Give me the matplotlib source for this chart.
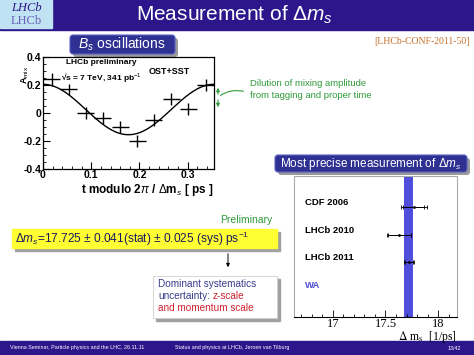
import numpy as np
import matplotlib
matplotlib.use("Agg")
import matplotlib.pyplot as plt
from matplotlib.patches import Rectangle, FancyBboxPatch, FancyArrowPatch

plt.rcParams['font.family'] = ['Liberation Sans', 'DejaVu Sans']
plt.rcParams['mathtext.fontset'] = 'custom'
plt.rcParams['mathtext.rm'] = 'Liberation Sans'
plt.rcParams['mathtext.it'] = 'Liberation Sans:italic'
plt.rcParams['mathtext.bf'] = 'Liberation Sans:bold'

# --- data: left plot (mixing asymmetry vs t modulo 2pi/dm) ---
t_centers = [0.018, 0.053, 0.089, 0.124, 0.160, 0.195, 0.230, 0.266, 0.301, 0.337]
t_halfwidth = [0.0177] * 10
a_mix = [0.24, 0.17, 0.00, -0.035, -0.10, -0.20, -0.05, 0.10, 0.03, 0.20]
a_err = [0.045, 0.04, 0.045, 0.045, 0.045, 0.045, 0.04, 0.045, 0.045, 0.045]
fit_offset = 0.025
fit_amplitude = 0.18
dms_fit = 17.725
x_ticks_left = [0, 0.1, 0.2, 0.3]
y_ticks_left = [-0.4, -0.2, 0, 0.2, 0.4]

# --- data: right plot (comparison of measurements) ---
meas_names = ["CDF 2006", "LHCb 2010", "LHCb 2011"]
meas_val = [17.77, 17.63, 17.725]
meas_stat = [0.10, 0.11, 0.041]
meas_syst = [0.07, 0.02, 0.025]
wa_val = 17.723
wa_err = 0.043
x_ticks_right = [17, 17.5, 18]

W, H = 474, 355
HEADER = '#2c168c'
BOXBLUE = '#2e3192'


def box(x0, y0, x1, y1):
    return [x0 / W, 1 - y1 / H, (x1 - x0) / W, (y1 - y0) / H]


fig = plt.figure(figsize=(W / 100, H / 100), dpi=100)
bg = fig.add_axes([0, 0, 1, 1])
bg.set_xlim(0, W)
bg.set_ylim(H, 0)
bg.axis('off')

# header & footer
bg.add_patch(Rectangle((0, 0), W, 30, color=HEADER, zorder=1))
bg.add_patch(Rectangle((0, 0), 52, 28, color='#bfe3f2', zorder=2))
bg.text(26, 8, "LHCb", color=HEADER, fontsize=9, fontstyle='italic',
        family='Liberation Serif', ha='center', va='center', zorder=3)
bg.text(26, 21, "LHCb", color='#6b5fb5', fontsize=9,
        family='Liberation Serif', ha='center', va='center', zorder=3)
bg.text(234, 15, r"Measurement of $\Delta m_s$", color='white', fontsize=15,
        ha='center', va='center', zorder=3)
bg.add_patch(Rectangle((0, 341), W, 14, color=HEADER, zorder=1))
bg.text(10, 348, "Vienna Seminar, Particle physics and the LHC, 26.11.11",
        color='white', fontsize=3.9, va='center')
bg.text(175, 348, "Status and physics at LHCb, Jeroen van Tilburg",
        color='white', fontsize=3.9, va='center')
bg.text(461, 348, "13/42", color='white', fontsize=3.9, va='center', ha='right')

bg.text(470, 41, "[LHCb-CONF-2011-50]", color='#c8702a', fontsize=7,
        family='Liberation Serif', ha='right', va='center')

# title boxes
bg.add_patch(FancyBboxPatch((73, 38), 105, 19, boxstyle="round,pad=0,rounding_size=3",
                            fc='#9a9a9a', ec='none', zorder=1))
bg.add_patch(FancyBboxPatch((70, 35), 105, 19, boxstyle="round,pad=0,rounding_size=3",
                            fc=BOXBLUE, ec='#5b60c4', lw=0.8, zorder=2))
bg.text(122, 44.5, r"$B_s$ oscillations", color='white', fontsize=10,
        ha='center', va='center', zorder=3)

bg.add_patch(FancyBboxPatch((278, 158), 192, 17, boxstyle="round,pad=0,rounding_size=3",
                            fc='#9a9a9a', ec='none', zorder=1))
bg.add_patch(FancyBboxPatch((275, 155), 192, 17, boxstyle="round,pad=0,rounding_size=3",
                            fc=BOXBLUE, ec='#5b60c4', lw=0.8, zorder=2))
bg.text(371, 164, r"Most precise measurement of $\Delta m_s$", color='white',
        fontsize=8.5, ha='center', va='center', zorder=3)

# green dilution annotation
green = '#2e9a3a'
bg.add_patch(FancyArrowPatch((218, 97), (218, 85), arrowstyle='-|>', mutation_scale=5,
                             color=green, lw=0.8))
bg.add_patch(FancyArrowPatch((218, 97), (218, 110), arrowstyle='-|>', mutation_scale=5,
                             color=green, lw=0.8))
bg.add_patch(FancyArrowPatch((218, 97), (246, 92), arrowstyle='-', color=green, lw=0.8,
                             connectionstyle="arc3,rad=-0.25"))
bg.text(250, 84, "Dilution of mixing amplitude", color=green, fontsize=6.8, va='center')
bg.text(250, 96, "from tagging and proper time", color=green, fontsize=6.8, va='center')

# result box
bg.text(272, 220, "Preliminary", color=green, fontsize=7.5, ha='right', va='center')
bg.add_patch(Rectangle((15, 232), 265, 19, color='#a0a0a0', zorder=1))
bg.add_patch(Rectangle((12, 229), 265, 19, color='#ffff33', zorder=2))
bg.text(15, 239, r"$\Delta m_s$=17.725 $\pm$ 0.041(stat) $\pm$ 0.025 (sys) ps$^{-1}$",
        color='#1a1a5e', fontsize=8.6, va='center', zorder=3)
bg.add_patch(FancyArrowPatch((228, 251), (228, 270), arrowstyle='-|>', mutation_scale=5,
                             color='black', lw=0.7, zorder=3))

bg.add_patch(Rectangle((156, 279), 124, 42, color='#a0a0a0', zorder=1))
bg.add_patch(Rectangle((153, 276), 124, 42, fc='white', ec='#d0d0d0', lw=0.6, zorder=2))
navy = '#3a3a8c'
red = '#d0202e'
bg.text(158, 284, "Dominant systematics", color=navy, fontsize=7.2, va='center', zorder=3)
bg.text(158, 296, "uncertainty:", color=navy, fontsize=7.2, va='center', zorder=3)
bg.text(213, 296, "z-scale", color=red, fontsize=7.2, va='center', zorder=3)
bg.text(158, 308, "and momentum scale", color=red, fontsize=7.2, va='center', zorder=3)

# --- left plot ---
ax = fig.add_axes(box(43, 57, 214, 169))
period = 2 * np.pi / dms_fit
tt = np.linspace(0, period, 200)
ax.plot(tt, fit_offset + fit_amplitude * np.cos(2 * np.pi * tt / period),
        color='black', lw=1.0)
ax.errorbar(t_centers, a_mix, xerr=t_halfwidth, yerr=a_err, fmt='none',
            ecolor='black', elinewidth=1.0, capsize=0)
ax.set_xlim(0, period)
ax.set_ylim(-0.4, 0.4)
ax.set_xticks(x_ticks_left)
ax.set_xticklabels(["0", "0.1", "0.2", "0.3"])
ax.set_yticks(y_ticks_left)
ax.set_yticklabels(["-0.4", "-0.2", "0", "0.2", "0.4"])
ax.set_xticks(np.arange(0, 0.35, 0.02), minor=True)
ax.set_yticks(np.arange(-0.4, 0.41, 0.05), minor=True)
ax.tick_params(which='both', direction='in', top=False, right=False,
               labelsize=7.5, pad=1)
ax.tick_params(which='major', length=5, width=0.8)
ax.tick_params(which='minor', length=2.5, width=0.6)
for lab in ax.get_xticklabels() + ax.get_yticklabels():
    lab.set_fontweight('bold')
for s in ax.spines.values():
    s.set_linewidth(0.9)
ax.set_xlabel(r"t modulo 2$\pi$ / $\Delta$m$_s$ [ ps ]", loc='right',
              fontsize=8.5, fontweight='bold', labelpad=1)
ax.set_ylabel(r"A$_{\rm mix}$", loc='top', fontsize=6.5, fontweight='bold')
ax.yaxis.set_label_coords(-0.07, 0.925)
ax.text(0.34, 0.95, "LHCb preliminary", transform=ax.transAxes, fontsize=6,
        fontweight='bold', ha='center', va='center')
ax.text(0.34, 0.82, "\u221as = 7 TeV, 341 pb$^{-1}$", transform=ax.transAxes,
        fontsize=6, fontweight='bold', ha='center', va='center')
ax.text(0.74, 0.87, "OST+SST", transform=ax.transAxes, fontsize=6.5,
        fontweight='bold', ha='center', va='center')

# --- right plot ---
ax2 = fig.add_axes(box(294, 176, 457, 317))
ax2.axvspan(wa_val - wa_err, wa_val + wa_err, color='#4f4fdc', lw=0)
rows = np.arange(len(meas_names))
for i, name in enumerate(meas_names):
    tot = np.hypot(meas_stat[i], meas_syst[i])
    ax2.errorbar(meas_val[i], rows[i] + 0.15, xerr=tot, fmt='.', color='black', ms=2,
                 elinewidth=0.6, capsize=1.5, capthick=0.6)
    ax2.errorbar(meas_val[i], rows[i] + 0.15, xerr=meas_stat[i], fmt='none',
                 ecolor='black', elinewidth=0.6, capsize=1.5, capthick=0.6)
    ax2.text(0.07, rows[i], name, transform=ax2.get_yaxis_transform(), fontsize=6.8,
             fontweight='bold', va='center')
ax2.text(0.07, len(meas_names), "WA", transform=ax2.get_yaxis_transform(), fontsize=6.8,
         fontweight='bold', va='center', color='#4f4fd0')
ax2.set_xlim(16.63, 18.18)
ax2.set_ylim(4.15, -0.98)
ax2.set_yticks([])
ax2.set_xticks(x_ticks_right)
ax2.set_xticklabels(["17", "17.5", "18"], family='Liberation Serif')
ax2.set_xticks(np.arange(16.7, 18.15, 0.1), minor=True)
ax2.tick_params(which='both', direction='in', labelsize=9, pad=1, width=0.6)
ax2.tick_params(which='major', length=5)
ax2.tick_params(which='minor', length=2.5)
for k in ['left', 'top', 'right']:
    ax2.spines[k].set_color('#a8a8a8')
    ax2.spines[k].set_linewidth(0.8)
ax2.spines['bottom'].set_linewidth(0.8)
ax2.set_xlabel(r"$\Delta$ m$_{\rm s}$  [1/ps]", loc='right', fontsize=8.5,
               family='Liberation Serif', math_fontfamily='stix', labelpad=-1)

fig.savefig("out.png", dpi=100)
